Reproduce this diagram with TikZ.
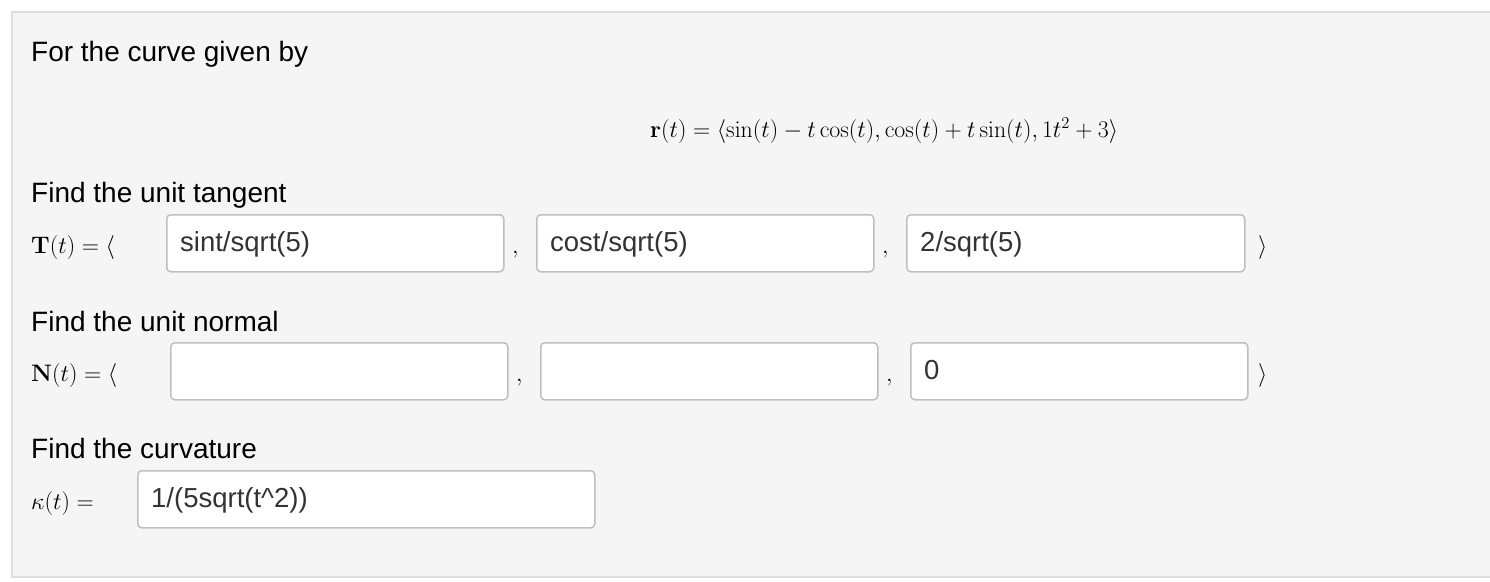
\documentclass[tikz,border=0pt]{standalone}
\usepackage{amsmath}
\usepackage[no-math]{fontspec}
\setmainfont{Liberation Sans}
\begin{document}
\begin{tikzpicture}[x=1pt,y=-1pt]
\tikzset{
  inbox/.style={draw=black!25,line width=1.5pt,fill=white,rounded corners=4pt,minimum height=57pt,anchor=north west,inner sep=0pt},
  lbl/.style={anchor=base west,inner sep=0pt,font=\fontsize{28}{32}\selectfont},
  val/.style={anchor=base west,inner sep=0pt,font=\fontsize{27.5}{32}\selectfont,text=black!80},
  mth/.style={anchor=base west,inner sep=0pt,font=\huge,scale=1.15,transform shape}
}
\useasboundingbox (0,0) rectangle (1490,581);
\fill[white] (0,0) rectangle (1490,581);
\draw[fill=black!4,draw=black!13,line width=1.5pt] (12,12) rectangle (1492,577);
\node[lbl] (t1) at (31,61) {For the curve given by};
\node[mth] (r) at (650,137) {$\mathbf{r}(t)=\langle \sin(t)-t\cos(t),\cos(t)+t\sin(t),1t^2+3\rangle$};
\node[lbl] (t2) at (31,202) {Find the unit tangent};
\node[mth] (T) at (31,253) {$\mathbf{T}(t)=\langle$};
\node[inbox,minimum width=337pt] (b1) at (166,214) {};
\node[inbox,minimum width=337pt] (b2) at (536,214) {};
\node[inbox,minimum width=338pt] (b3) at (906,214) {};
\node[val] at (180,251) {sint/sqrt(5)};
\node[val] at (550,251) {cost/sqrt(5)};
\node[val] at (920,251) {2/sqrt(5)};
\node[mth] (c1) at (512,253) {$,$};
\node[mth] (c2) at (882,253) {$,$};
\node[mth] (a1) at (1258,253) {$\rangle$};
\node[lbl] (t3) at (31,331) {Find the unit normal};
\node[mth] (N) at (31,381) {$\mathbf{N}(t)=\langle$};
\node[inbox,minimum width=337pt] (n1) at (170,342) {};
\node[inbox,minimum width=337pt] (n2) at (540,342) {};
\node[inbox,minimum width=337pt] (n3) at (910,342) {};
\node[val] at (924,379) {0};
\node[mth] (c3) at (516,381) {$,$};
\node[mth] (c4) at (886,381) {$,$};
\node[mth] (a2) at (1258,381) {$\rangle$};
\node[lbl] (t4) at (31,458) {Find the curvature};
\node[mth] (K) at (31,509) {$\kappa(t)=$};
\node[inbox,minimum width=457pt] (k1) at (137,470) {};
\node[val] at (151,507) {1/(5sqrt(t\^{}2))};
\end{tikzpicture}
\end{document}
